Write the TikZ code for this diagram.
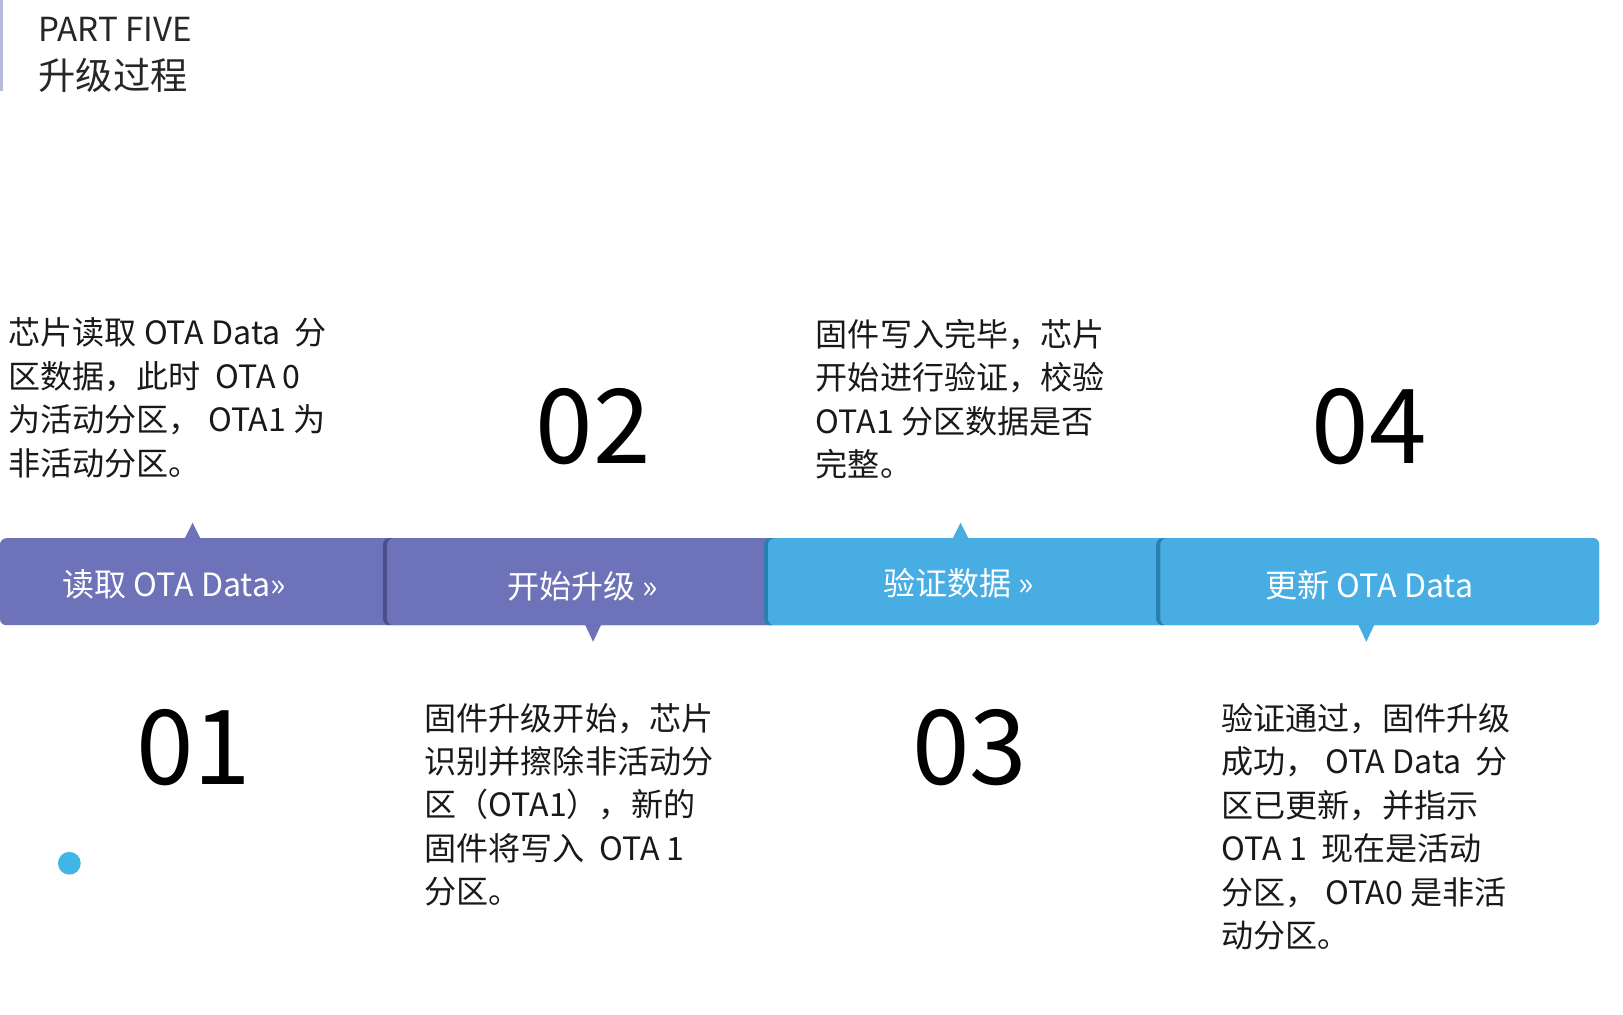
\documentclass[tikz,border=0pt]{standalone}
\usepackage{fontspec}
\setmainfont{Noto Sans CJK SC}
\begin{document}
\begin{tikzpicture}[x=1pt,y=-1pt,
  seg/.style={rounded corners=6pt},
  lbl/.style={text=white,font=\fontsize{31}{36}\selectfont,inner sep=0},
  big/.style={font=\fontsize{100}{110}\selectfont,inner sep=0,text=black},
  para/.style={align=left,anchor=north west,inner sep=0,font=\fontsize{31}{42}\selectfont,text=black!90}]
\definecolor{pur}{HTML}{6E72B9}
\definecolor{purd}{HTML}{4A4E8E}
\definecolor{blu}{HTML}{48ADE3}
\definecolor{blud}{HTML}{2A7FB0}
\useasboundingbox (0,0) rectangle (1568,980);
\fill[pur!50] (0,0) rectangle (3,88);
\node[anchor=base west,inner sep=0,font=\fontsize{32}{36}\selectfont,text=black!85] (t1) at (37,40) {PART FIVE};
\node[anchor=base west,inner sep=0,font=\fontsize{36}{40}\selectfont,text=black!85] (t2) at (37,86) {升级过程};
% pointers
\fill[pur] (178,521) -- (186,505) -- (194,521) -- cycle;
\fill[pur] (565,603) -- (573,620) -- (581,603) -- cycle;
\fill[blu] (920,521) -- (928,505) -- (936,521) -- cycle;
\fill[blu] (1312,603) -- (1320,620) -- (1328,603) -- cycle;
% segments
\fill[seg,pur] (0,520) rectangle (385,604);
\fill[seg,purd] (370,520) rectangle (752,604);
\fill[seg,pur] (374,520) rectangle (752,604);
\fill[seg,blud] (738,520) rectangle (1130,604);
\fill[seg,blu] (742,520) rectangle (1130,604);
\fill[seg,blud] (1117,520) rectangle (1545,604);
\fill[seg,blu] (1121,520) rectangle (1545,604);
\node[lbl] (b1) at (168,565) {读取 OTA Data>>};
\node[lbl] (b2) at (563,566) {开始升级 >>};
\node[lbl] (b3) at (926,563) {验证数据 >>};
\node[lbl] (b4) at (1323,565) {更新 OTA Data};
\node[big] (n2) at (573,412) {02};
\node[big] (n4) at (1323,412) {04};
\node[big] (n1) at (187,722) {01};
\node[big] (n3) at (937,722) {03};
\node[para] (p1) at (8,307) {芯片读取 OTA Data\ \ 分\\区数据，此时\ \ OTA 0\\为活动分区，\ OTA1 为\\非活动分区。};
\node[para] (p2) at (788,308) {固件写入完毕，芯片\\开始进行验证，校验\\OTA1 分区数据是否\\完整。};
\node[para] (p3) at (410,679) {固件升级开始，芯片\\识别并擦除非活动分\\区（OTA1），新的\\固件将写入\ \ OTA 1\\分区。};
\node[para] (p4) at (1180,679) {验证通过，固件升级\\成功，\ OTA Data\ \ 分\\区已更新，并指示\\OTA 1\ \ 现在是活动\\分区，\ OTA0 是非活\\动分区。};
\fill[blu!90!cyan] (67,834) circle (11);
\end{tikzpicture}
\end{document}
